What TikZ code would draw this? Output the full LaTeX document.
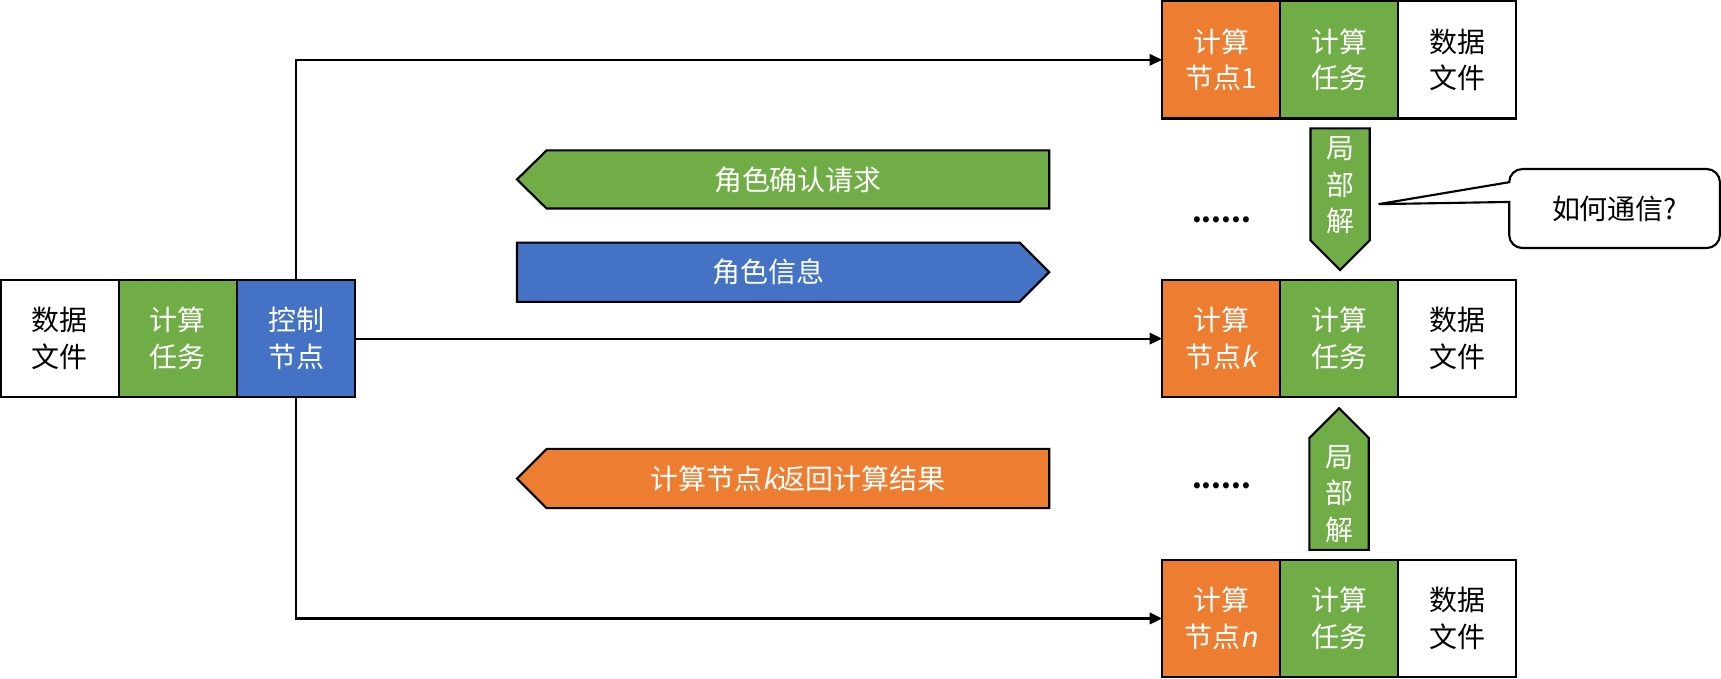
\documentclass[tikz,border=0pt]{standalone}
\usepackage{fontspec}
\setmainfont{Noto Sans CJK SC}[ItalicFont={Noto Sans CJK SC}, ItalicFeatures={FakeSlant=0.2}]
\usepackage{xcolor}
\usetikzlibrary{arrows.meta}
\definecolor{nodeorange}{HTML}{ED7D31}
\definecolor{taskgreen}{HTML}{70AD47}
\definecolor{ctrlblue}{HTML}{4472C4}

\begin{document}
\begin{tikzpicture}[x=0.02cm, y=-0.02cm, line width=1.1pt,
	every node/.style={font=\fontsize{14.5pt}{19pt}\selectfont},
	cell/.style={draw, outer sep=0pt, inner sep=0pt, minimum width=2.15cm, minimum height=2.14cm, align=center},
	white cell/.style={cell, fill=white, text=black},
	task cell/.style={cell, fill=taskgreen, text=white},
	calc cell/.style={cell, fill=nodeorange, text=white},
	ctrl cell/.style={cell, fill=ctrlblue, text=white},
	link/.style={-{Triangle[length=6.5pt, width=6pt]}},
	banner/.style={draw, line width=1.1pt},
	bannertext/.style={text=white, align=center, inner sep=0pt},
	dots/.style={font=\fontsize{14.5pt}{19pt}\selectfont\bfseries}]
	\useasboundingbox (0,0) rectangle (1568,618);

	\node[white cell] (data) at (54.5,308.5) {数据\\文件};
	\node[task cell] (task) at (162,308.5) {计算\\任务};
	\node[ctrl cell] (ctrl) at (270,308.5) {控制\\节点};

	\node[calc cell] (n1) at (1112.5,54.5) {计算\\节点1};
	\node[task cell] (t1) at (1220,54.5) {计算\\任务};
	\node[white cell] (d1) at (1327.5,54.5) {数据\\文件};

	\node[calc cell] (nk) at (1112.5,308.5) {计算\\节点\textit{k}};
	\node[task cell] (tk) at (1220,308.5) {计算\\任务};
	\node[white cell] (dk) at (1327.5,308.5) {数据\\文件};

	\node[calc cell] (nn) at (1112.5,563.5) {计算\\节点\textit{n}};
	\node[task cell] (tn) at (1220,563.5) {计算\\任务};
	\node[white cell] (dn) at (1327.5,563.5) {数据\\文件};

	\draw[link] (ctrl.north) |- (n1.west);
	\draw[link] (ctrl.east) -- (nk.west);
	\draw[link] (ctrl.south) |- (nn.west);

	\draw[banner, fill=taskgreen] (471,163.5) -- (498,137) -- (956,137) -- (956,190) -- (498,190) -- cycle;
	\node[bannertext] (req) at (727,163.5) {角色确认请求};
	\draw[banner, fill=ctrlblue] (471,221) -- (929,221) -- (956,248) -- (929,275) -- (471,275) -- cycle;
	\node[bannertext] (info) at (700,248) {角色信息};
	\draw[banner, fill=nodeorange] (471,436) -- (498,409) -- (956,409) -- (956,463) -- (498,463) -- cycle;
	\node[bannertext] (back) at (727,436) {计算节点\textit{k}返回计算结果};

	\draw[banner, fill=taskgreen] (1194,117) -- (1248,117) -- (1248,219) -- (1221,246) -- (1194,219) -- cycle;
	\node[bannertext] (sol1) at (1221,169) {局\\部\\解};
	\draw[banner, fill=taskgreen] (1193,501) -- (1193,399) -- (1220,372) -- (1247,399) -- (1247,501) -- cycle;
	\node[bannertext] (sol2) at (1220,450) {局\\部\\解};

	\node[dots] (dots1) at (1113,200) {......};
	\node[dots] (dots2) at (1113,443) {......};

	\draw[fill=white] (1375,184) -- (1256,186) -- (1375,166) [rounded corners=0.24cm] -- (1375,154) -- (1567,154) -- (1567,226) -- (1375,226) [sharp corners] -- cycle;
	\node (ask) at (1471,190) {如何通信?};
\end{tikzpicture}
\end{document}
